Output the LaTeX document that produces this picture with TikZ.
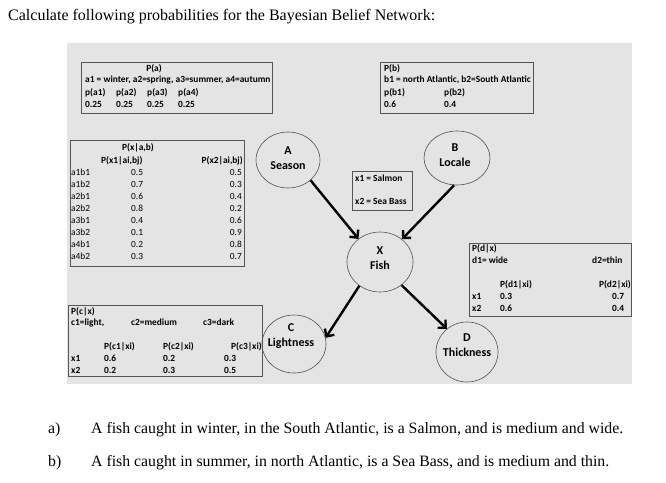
\documentclass[tikz,border=0pt]{standalone}
\usepackage{fontspec}
\setmainfont{Liberation Serif}
\newfontfamily\calf{Carlito}
\usetikzlibrary{arrows.meta,shapes.geometric}
\definecolor{bggray}{RGB}{228,228,228}
\definecolor{boxline}{RGB}{85,85,85}
\definecolor{ellline}{RGB}{80,80,80}
\begin{document}
\begin{tikzpicture}[x=1pt,y=-1pt,
 tb/.style={font=\calf\bfseries\fontsize{9.4}{11}\selectfont, inner sep=0pt, anchor=base west},
 tbe/.style={tb, anchor=base east},
 tbc/.style={tb, anchor=base},
 tr/.style={font=\calf\fontsize{9.4}{11}\selectfont, inner sep=0pt, anchor=base west},
 tre/.style={tr, anchor=base east},
 tbox/.style={draw=boxline, line width=0.8pt, inner sep=0pt, anchor=north west},
 ell/.style={ellipse, draw=ellline, line width=0.6pt, inner sep=0pt},
 elab/.style={font=\calf\bfseries\fontsize{12}{14.5}\selectfont, inner sep=0pt, align=center},
 arr/.style={line width=2.4pt, -{Straight Barb[angle=90:8pt]}},
 txt/.style={font=\fontsize{15.8}{19}\selectfont, inner sep=0pt, anchor=base west}]

\useasboundingbox (0,0) rectangle (666,482);
\node[txt, font=\fontsize{16}{19}\selectfont] (title) at (8,20) {Calculate following probabilities for the Bayesian Belief Network:};
\fill[bggray] (67,43) rectangle (632,384);

% P(a)
\node[tbox, minimum width=191, minimum height=51] (pa) at (81,62) {};
\node[tbc] (pa0) at (154,71) {P(a)};
\node[tb] (pa1) at (85,82) {a1 = winter, a2=spring, a3=summer, a4=autumn};
\foreach \i/\x in {1/85,2/116,3/147,4/178}{
  \node[tb] (pah\i) at (\x,95) {p(a\i)};
  \node[tb] (pav\i) at (\x,107) {0.25};
}

% P(b)
\node[tbox, minimum width=153, minimum height=51] (pb) at (380,62) {};
\node[tb] (pb0) at (384,71) {P(b)};
\node[tb] (pb1) at (384,82) {b1 = north Atlantic, b2=South Atlantic};
\node[tb] (pbh1) at (384,95) {p(b1)};
\node[tb] (pbh2) at (444,95) {p(b2)};
\node[tb] (pbv1) at (384,107) {0.6};
\node[tb] (pbv2) at (444,107) {0.4};

% P(x|a,b)
\node[tbox, minimum width=174, minimum height=126] (px) at (70,140) {};
\node[tbc] (px0) at (138,150) {P(x|a,b)};
\node[tb] (pxh1) at (101,163) {P(x1|ai,bj)};
\node[tbe] (pxh2) at (243,163) {P(x2|ai,bj)};
\foreach \r/\a/\b/\y in {1/a1b1/0.5/0.5, 2/a1b2/0.7/0.3, 3/a2b1/0.6/0.4, 4/a2b2/0.8/0.2,
  5/a3b1/0.4/0.6, 6/a3b2/0.1/0.9, 7/a4b1/0.2/0.8, 8/a4b2/0.3/0.7}{
  \node[tr] (pxr\r) at (71,{163+12*\r}) {\a};
  \node[tr] (pxa\r) at (131,{163+12*\r}) {\b};
  \node[tre] (pxb\r) at (242,{163+12*\r}) {\y};
}

% fish legend
\node[tbox, minimum width=60, minimum height=39] (xl) at (352,171) {};
\node[tb] (xl1) at (355,181) {x1 = Salmon};
\node[tb] (xl2) at (355,204) {x2 = Sea Bass};

% P(d|x)
\node[tbox, minimum width=162, minimum height=73] (pd) at (469,243) {};
\node[tb] (pd0) at (472,251) {P(d|x)};
\node[tb] (pd1) at (472,263) {d1= wide};
\node[tb] (pd2) at (592,263) {d2=thin};
\node[tb] (pdh1) at (500,287) {P(d1|xi)};
\node[tbe] (pdh2) at (631,287) {P(d2|xi)};
\node[tb] (pdr1) at (472,299) {x1};
\node[tb] (pda1) at (500,299) {0.3};
\node[tb] (pdb1) at (612,299) {0.7};
\node[tb] (pdr2) at (472,311) {x2};
\node[tb] (pda2) at (500,311) {0.6};
\node[tb] (pdb2) at (612,311) {0.4};

% P(c|x)
\node[tbox, minimum width=194, minimum height=71] (pc) at (68,305) {};
\node[tb] (pc0) at (71,314) {P(c|x)};
\node[tb] (pc1) at (71,325) {c1=light,};
\node[tb] (pc2) at (131,325) {c2=medium};
\node[tb] (pc3) at (203,325) {c3=dark};
\node[tb] (pch1) at (104,349) {P(c1|xi)};
\node[tb] (pch2) at (163,349) {P(c2|xi)};
\node[tbe] (pch3) at (262,349) {P(c3|xi)};
\node[tb] (pcr1) at (71,361) {x1};
\node[tb] (pca1) at (104,361) {0.6};
\node[tb] (pcb1) at (163,361) {0.2};
\node[tb] (pcc1) at (224,361) {0.3};
\node[tb] (pcr2) at (71,373) {x2};
\node[tb] (pca2) at (104,373) {0.2};
\node[tb] (pcb2) at (163,373) {0.3};
\node[tb] (pcc2) at (224,373) {0.5};

% network nodes
\node[ell, minimum width=64, minimum height=56] (A) at (288,160) {};
\node[elab] (Al) at (288,158) {A\\Season};
\node[ell, minimum width=66, minimum height=54] (B) at (457,158) {};
\node[elab] (Bl) at (455,155) {B\\Locale};
\node[ell, minimum width=66, minimum height=60] (X) at (380,262) {};
\node[elab] (Xl) at (380,258) {X\\Fish};
\node[ell, minimum width=64, minimum height=58] (C) at (294,344) {};
\node[elab] (Cl) at (291,336) {C\\Lightness};
\node[ell, minimum width=62, minimum height=60] (D) at (467,352) {};
\node[elab] (Dl) at (467,345) {D\\Thickness};

\draw[arr] (A.-42) -- (X.133);
\draw[arr] (B.-96) -- (X.46);
\draw[arr] (X.-131) -- (C.11);
\draw[arr] (X.-47) -- (D.131);

% questions
\node[txt] (qa) at (48,433) {a)};
\node[txt] (qat) at (91,433) {A fish caught in winter, in the South Atlantic, is a Salmon, and is medium and wide.};
\node[txt] (qb) at (48,466) {b)};
\node[txt] (qbt) at (91,466) {A fish caught in summer, in north Atlantic, is a Sea Bass, and is medium and thin.};
\end{tikzpicture}
\end{document}
